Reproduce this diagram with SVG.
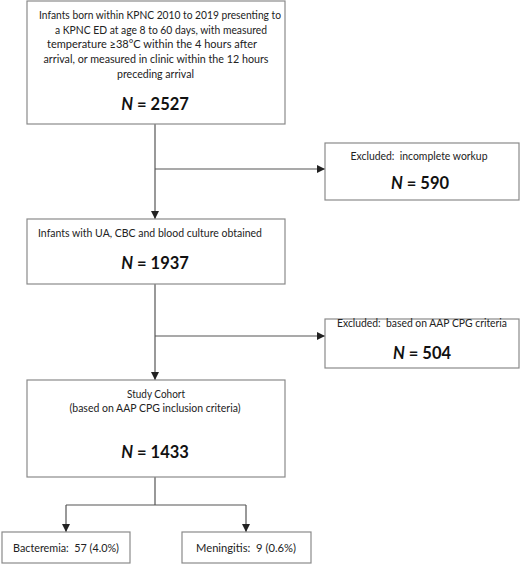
<svg xmlns="http://www.w3.org/2000/svg" width="520" height="565" viewBox="0 0 520 565">
<style>
.box{fill:#fff;stroke:#8a8a8a;stroke-width:1.2}
.t{font-family:Lato,"Liberation Sans",sans-serif;font-size:11.5px;fill:#222;text-anchor:middle;white-space:pre}
.s{font-family:Lato,"Liberation Sans",sans-serif;font-size:10.5px;fill:#222;text-anchor:middle;white-space:pre}
.n{font-family:Lato,"Liberation Sans",sans-serif;font-size:16.5px;font-weight:bold;fill:#111;text-anchor:middle}
.c{fill:none;stroke:#555;stroke-width:1.2}
</style>
<defs>
<marker id="ah" viewBox="0 0 10 10" refX="10" refY="5" markerWidth="8" markerHeight="8" markerUnits="userSpaceOnUse" orient="auto">
<path d="M0,0 L10,5 L0,10 z" fill="#222"/>
</marker>
</defs>
<rect width="520" height="565" fill="#fff"/>
<g id="connectors">
<path class="c" d="M155,124 V219" marker-end="url(#ah)"/>
<path class="c" d="M155,169 H325" marker-end="url(#ah)"/>
<path class="c" d="M155,284 V380" marker-end="url(#ah)"/>
<path class="c" d="M155,336 H325" marker-end="url(#ah)"/>
<path class="c" d="M155,477 V505 M66,505 H246"/>
<path class="c" d="M66,505 V532" marker-end="url(#ah)"/>
<path class="c" d="M246,505 V532" marker-end="url(#ah)"/>
</g>
<g id="n1">
<rect class="box" x="27" y="1" width="258" height="123"/>
<text class="t" x="160" y="19" textLength="242" lengthAdjust="spacingAndGlyphs">Infants born within KPNC 2010 to 2019 presenting to</text>
<text class="t" x="161" y="34" textLength="212" lengthAdjust="spacingAndGlyphs">a KPNC ED at age 8 to 60 days, with measured</text>
<text class="t" x="152" y="48" textLength="210" lengthAdjust="spacingAndGlyphs">temperature ≥38°C within the 4 hours after</text>
<text class="t" x="156" y="63" textLength="225" lengthAdjust="spacingAndGlyphs">arrival, or measured in clinic within the 12 hours</text>
<text class="t" x="155.5" y="78" textLength="77" lengthAdjust="spacingAndGlyphs">preceding arrival</text>
<text class="n" x="155" y="110"><tspan font-style="italic">N</tspan> = 2527</text>
</g>
<g id="n2">
<rect class="box" x="325" y="143" width="194" height="57"/>
<text class="s" x="419" y="160" textLength="137" lengthAdjust="spacingAndGlyphs">Excluded:  incomplete workup</text>
<text class="n" x="420" y="189"><tspan font-style="italic">N</tspan> = 590</text>
</g>
<g id="n3">
<rect class="box" x="27" y="219" width="258" height="65"/>
<text class="t" x="150" y="237" textLength="224" lengthAdjust="spacingAndGlyphs">Infants with UA, CBC and blood culture obtained</text>
<text class="n" x="155" y="269"><tspan font-style="italic">N</tspan> = 1937</text>
</g>
<g id="n4">
<rect class="box" x="325" y="319" width="194" height="49"/>
<text class="s" x="422" y="327" textLength="170" lengthAdjust="spacingAndGlyphs">Excluded:  based on AAP CPG criteria</text>
<text class="n" x="422" y="359"><tspan font-style="italic">N</tspan> = 504</text>
</g>
<g id="n5">
<rect class="box" x="27" y="380" width="258" height="97"/>
<text class="s" x="156" y="398" textLength="58" lengthAdjust="spacingAndGlyphs">Study Cohort</text>
<text class="s" x="155" y="412" textLength="171" lengthAdjust="spacingAndGlyphs">(based on AAP CPG inclusion criteria)</text>
<text class="n" x="155" y="458"><tspan font-style="italic">N</tspan> = 1433</text>
</g>
<g id="n6">
<rect class="box" x="2" y="532" width="128" height="31"/>
<text class="s" x="66" y="552" textLength="106" lengthAdjust="spacingAndGlyphs">Bacteremia:  57 (4.0%)</text>
</g>
<g id="n7">
<rect class="box" x="182" y="532" width="129" height="31"/>
<text class="s" x="246" y="552" textLength="100" lengthAdjust="spacingAndGlyphs">Meningitis:  9 (0.6%)</text>
</g>
</svg>
